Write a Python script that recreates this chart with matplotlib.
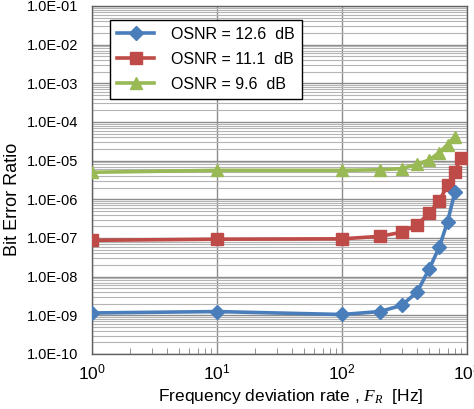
import matplotlib
matplotlib.use("Agg")
import matplotlib.pyplot as plt
from matplotlib.ticker import LogLocator, FuncFormatter, NullFormatter

plt.rcParams['font.family'] = ['Liberation Sans', 'DejaVu Sans']
plt.rcParams['mathtext.fontset'] = 'custom'
plt.rcParams['mathtext.rm'] = 'Liberation Sans'
plt.rcParams['mathtext.it'] = 'Liberation Serif:italic'
plt.rcParams['mathtext.default'] = 'it'

# Data
x_blue = [1, 10, 100, 200, 300, 400, 500, 600, 700, 800]
ber_blue = [1.15e-9, 1.25e-9, 1.05e-9, 1.25e-9, 1.8e-9, 4.0e-9, 1.6e-8, 5.7e-8, 2.6e-7, 1.5e-6]
x_red = [1, 10, 100, 200, 300, 400, 500, 600, 700, 800, 900]
ber_red = [8.7e-8, 9.3e-8, 9.5e-8, 1.1e-7, 1.4e-7, 2.2e-7, 4.4e-7, 9.0e-7, 2.3e-6, 5.2e-6, 1.2e-5]
x_green = [1, 10, 100, 200, 300, 400, 500, 600, 700, 800]
ber_green = [5.0e-6, 5.6e-6, 5.6e-6, 5.8e-6, 6.2e-6, 8.0e-6, 1.05e-5, 1.6e-5, 2.6e-5, 4.2e-5]
labels = ["OSNR = 12.6  dB", "OSNR = 11.1  dB", "OSNR = 9.6  dB"]

fig = plt.figure(figsize=(4.74, 4.09), dpi=100)
ax = fig.add_axes([0.194, 0.1345, 0.791, 0.851])
ax.set_xscale('log')
ax.set_yscale('log')
ax.set_xlim(1, 1000)
ax.set_ylim(1e-10, 1e-1)

ax.plot(x_blue, ber_blue, color='#4A7EBB', lw=2.6, marker='D', ms=7, label=labels[0], zorder=5)
ax.plot(x_red, ber_red, color='#BE4B48', lw=2.6, marker='s', ms=8.5, label=labels[1], zorder=4)
ax.plot(x_green, ber_green, color='#98B954', lw=2.6, marker='^', ms=9, label=labels[2], zorder=3)

ax.yaxis.set_major_locator(LogLocator(base=10, numticks=20))
ax.yaxis.set_minor_locator(LogLocator(base=10, subs=range(2, 10), numticks=100))
ax.yaxis.set_major_formatter(FuncFormatter(lambda v, p: f"{v:.1E}"))
ax.yaxis.set_minor_formatter(NullFormatter())
ax.xaxis.set_minor_locator(LogLocator(base=10, subs=range(2, 10), numticks=100))
ax.xaxis.set_minor_formatter(NullFormatter())

ax.grid(True, which='major', axis='both', color='#8c8c8c', lw=1.0)
ax.grid(True, which='minor', axis='y', color='#b4b4b4', lw=0.8)
ax.set_axisbelow(True)

ax.tick_params(axis='y', which='both', length=0, labelsize=10.5, pad=10)
ax.tick_params(axis='x', which='major', direction='in', length=0, labelsize=12.5, pad=6)
ax.tick_params(axis='x', which='minor', direction='in', length=4, color='#808080')

for s in ax.spines.values():
    s.set_color('#606060')
    s.set_linewidth(1.0)

ax.set_ylabel('Bit Error Ratio', fontsize=13)
ax.yaxis.set_label_coords(-0.19, 0.443)
ax.set_xlabel('Frequency deviation rate , $F_R$  [Hz]', fontsize=12.5)
ax.xaxis.set_label_coords(0.531, -0.095)

leg = ax.legend(loc='upper left', bbox_to_anchor=(0.048, 0.96), frameon=True, fancybox=False,
                edgecolor='black', fontsize=11.5, handlelength=2.3, handletextpad=1.1,
                borderpad=0.45, labelspacing=0.62, borderaxespad=0)
leg.get_frame().set_linewidth(1.0)
leg.get_frame().set_alpha(1)

fig.savefig('out.png', dpi=100)
